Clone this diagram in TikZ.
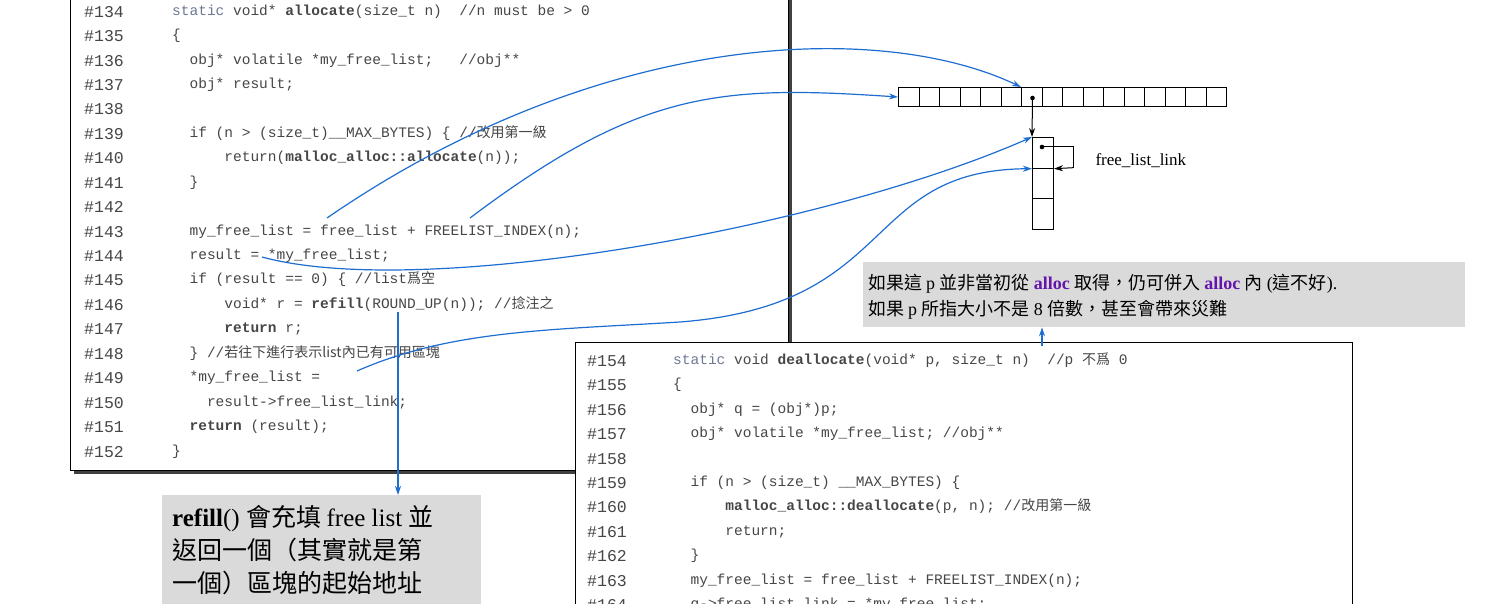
\documentclass[tikz,border=0pt]{standalone}
\usepackage{fontspec}
\setmainfont{Liberation Serif}
\setmonofont{Liberation Mono}
\newfontfamily\cjk{Noto Sans CJK TC}
\newfontfamily\cjkserif{Noto Sans CJK TC}
\usetikzlibrary{arrows.meta}
\definecolor{codegray}{RGB}{70,70,70}
\definecolor{kw}{RGB}{110,120,150}
\definecolor{arr}{RGB}{30,110,210}
\definecolor{notebg}{RGB}{218,218,218}
\definecolor{purp}{RGB}{100,20,170}
\newcommand{\cz}[1]{{\cjk\fontsize{14pt}{14pt}\selectfont #1}}
\newcommand{\ind}[1]{\hspace*{#1\dimexpr 8.7pt\relax}}
\tikzset{
 code/.style={anchor=west,inner sep=0pt,font=\ttfamily\fontsize{14.5pt}{15pt}\selectfont,text=codegray},
 num/.style={anchor=west,inner sep=0pt,font=\ttfamily\fontsize{16.5pt}{17pt}\selectfont,text=codegray},
 cell/.style={draw,line width=1pt,minimum width=20.5pt,minimum height=19pt,inner sep=0pt,anchor=north west},
 vcell/.style={draw,line width=1pt,minimum width=21pt,minimum height=30.7pt,inner sep=0pt,anchor=north west},
 blue/.style={draw=arr,line width=1.2pt,-{Stealth[length=9pt,width=6pt]}},
 blk/.style={draw=black,line width=1pt,-{Stealth[length=9pt,width=6pt]}},
 note/.style={fill=notebg,inner sep=0pt}
}
\begin{document}
\begin{tikzpicture}[x=1pt,y=-1pt]
\useasboundingbox (0,0) rectangle (1499,604);
\fill[white] (0,0) rectangle (1499,604);
% left box
\fill[black!75] (74,-10) rectangle (792,474);
\draw[fill=white,line width=1pt] (70,-10) rectangle (788,470);
\def\L#1#2#3{\node[num] at (84,#1) {\##2}; \node[code] (l#2) at (172,#1) {\strut #3};}
\L{12}{134}{\textcolor{kw}{static} void* \textbf{allocate}(size\_t n)\ind{2}//n must be > 0}
\L{36}{135}{\{}
\L{61}{136}{\ind{2}obj* volatile *my\_free\_list;\ind{3}//obj**}
\L{85}{137}{\ind{2}obj* result;}
\L{109}{138}{}
\L{134}{139}{\ind{2}if (n > (size\_t)\_\_MAX\_BYTES) \{ //\cz{改用第一級}}
\L{158}{140}{\ind{6}return(\textbf{malloc\_alloc::allocate}(n));}
\L{183}{141}{\ind{2}\}}
\L{207}{142}{}
\L{232}{143}{\ind{2}my\_free\_list = free\_list + FREELIST\_INDEX(n);}
\L{256}{144}{\ind{2}result = *my\_free\_list;}
\L{280}{145}{\ind{2}if (result == 0) \{ //list\cz{爲空}}
\L{305}{146}{\ind{6}void* r = \textbf{refill}(ROUND\_UP(n)); //\cz{捻注之}}
\L{329}{147}{\ind{6}\textbf{return} r;}
\L{354}{148}{\ind{2}\} //\cz{若往下進行表示list內已有可用區塊}}
\L{378}{149}{\ind{2}*my\_free\_list =}
\L{403}{150}{\ind{4}result->free\_list\_link;}
\L{427}{151}{\ind{2}\textbf{return} (result);}
\L{452}{152}{\}}
% bottom right box
\draw[fill=white,line width=1pt] (575,342) rectangle (1352,620);
\def\R#1#2#3{\node[num] at (587,#1) {\##2}; \node[code] (r#2) at (673,#1) {\strut #3};}
\R{361}{154}{\textcolor{kw}{static} void \textbf{deallocate}(void* p, size\_t n)\ind{2}//p \cz{不爲} 0}
\R{385}{155}{\{}
\R{410}{156}{\ind{2}obj* q = (obj*)p;}
\R{434}{157}{\ind{2}obj* volatile *my\_free\_list; //obj**}
\R{459}{158}{}
\R{483}{159}{\ind{2}if (n > (size\_t) \_\_MAX\_BYTES) \{}
\R{507}{160}{\ind{6}\textbf{malloc\_alloc::deallocate}(p, n); //\cz{改用第一級}}
\R{532}{161}{\ind{6}return;}
\R{556}{162}{\ind{2}\}}
\R{581}{163}{\ind{2}my\_free\_list = free\_list + FREELIST\_INDEX(n);}
\R{605}{164}{\ind{2}q->free\_list\_link = *my\_free\_list;}
% array
\foreach \i in {0,...,15} \node[cell] (a\i) at (898+20.5*\i,87) {};
\foreach \i in {0,1,2} \node[vcell] (v\i) at (1032,137+30.7*\i) {};
\fill (1032.5,98) circle (2.3pt) coordinate (adot);
\fill (1042,147) circle (2.3pt) coordinate (vdot);
\draw[blk] (adot) -- (v0.north west);
\draw[line width=1pt] (vdot) -- (1073,147) -- (1073,167.7);
\coordinate (lk) at (1073,167.7);
\draw[blk] (lk) -- (v0.south east);
\node[anchor=west,font=\fontsize{17pt}{17pt}\selectfont] (fll) at (1092,161) {free\_list\_link};
% notes
\node[note,anchor=north west,minimum width=602pt,minimum height=65pt] (n1) at (863,262) {};
\node[anchor=west,inner sep=0pt,font=\fontsize{18pt}{18pt}\selectfont] (n1a) at (868,284) {\cjkserif 如果這 \rmfamily p \cjkserif 並非當初從 \rmfamily\textcolor{purp}{\textbf{alloc}} \cjkserif 取得，仍可併入 \rmfamily\textcolor{purp}{\textbf{alloc}} \cjkserif 內 \rmfamily(\cjkserif 這不好\rmfamily).};
\node[anchor=west,inner sep=0pt,font=\fontsize{18pt}{18pt}\selectfont] (n1b) at (868,310) {\cjkserif 如果 \rmfamily p \cjkserif 所指大小不是 \rmfamily 8 \cjkserif 倍數，甚至會帶來災難};
\node[note,anchor=north west,minimum width=319pt,minimum height=115pt] (n2) at (162,495) {};
\node[anchor=north west,inner sep=0pt,align=left,font=\fontsize{25pt}{33pt}\selectfont] (n2t) at (172,505) {\textbf{refill}() \cjkserif 會充填 \rmfamily free list \cjkserif 並\\\cjkserif 返回一個（其實就是第\\\cjkserif 一個）區塊的起始地址};
% arrows
\coordinate (s1) at (327,218);
\coordinate (s2) at (470,218);
\coordinate (s3) at (262,257);
\coordinate (s4) at (357,371);
\coordinate (s5) at (398,312);
\coordinate (s6) at (1042,346);
\draw[blue] (s1) .. controls (600,30) and (880,20) .. (a6.north west);
\draw[blue] (s2) .. controls (640,90) and (720,85) .. (a0.west);
\draw[blue] (s3) .. controls (420,300) and (820,230) .. (v0.north west);
\draw[blue] (s4) .. controls (450,330) and (550,330) .. (680,322) .. controls (900,305) and (860,170) .. (v0.south west);
\draw[blue] (s5) -- (n2.north -| s5);
\draw[blue] (s6) -- (n1.south -| s6);
\end{tikzpicture}
\end{document}
